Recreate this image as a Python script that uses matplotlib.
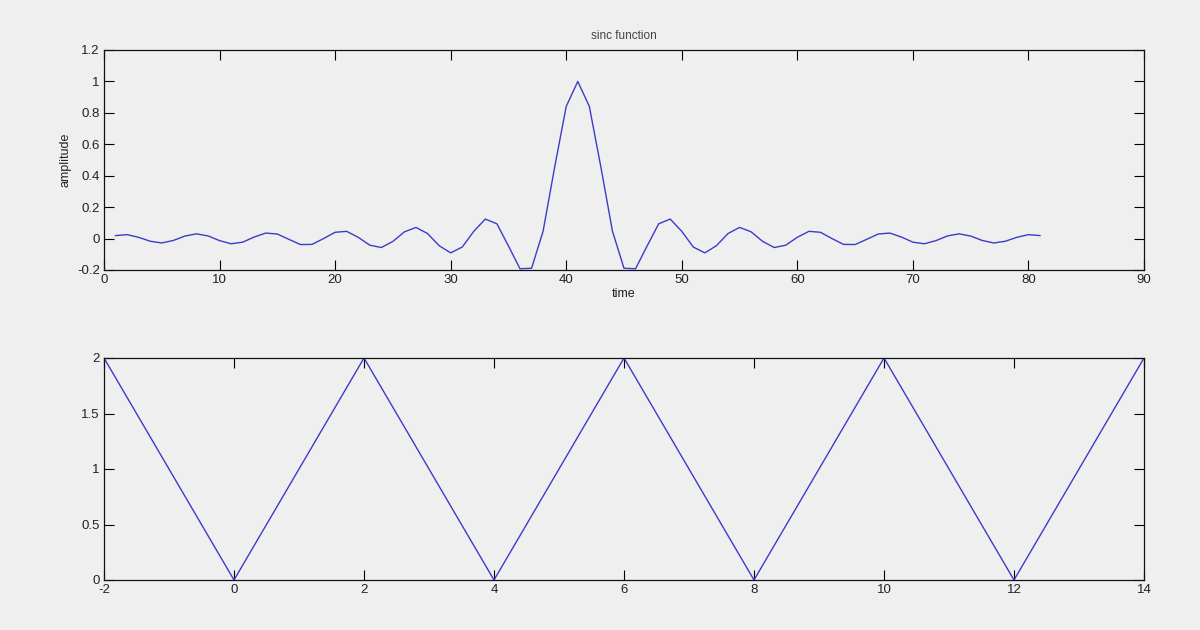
import matplotlib
matplotlib.use("Agg")
import matplotlib.pyplot as plt

# sinc samples, n = 1..81
sinc_n = list(range(1, 82))
sinc_y = [
    0.019, 0.025, 0.008, -0.017, -0.028, -0.012, 0.016, 0.030, 0.017, -0.013,
    -0.033, -0.023, 0.010, 0.035, 0.029, -0.005, -0.038, -0.037, 0.000, 0.040,
    0.046, 0.008, -0.042, -0.057, -0.018, 0.043, 0.071, 0.032, -0.045, -0.091,
    -0.054, 0.046, 0.124, 0.094, -0.047, -0.192, -0.189, 0.047, 0.455, 0.841,
    1.000,
    0.841, 0.455, 0.047, -0.189, -0.192, -0.047, 0.094, 0.124, 0.046, -0.054,
    -0.091, -0.045, 0.032, 0.071, 0.043, -0.018, -0.057, -0.042, 0.008, 0.046,
    0.040, 0.000, -0.037, -0.038, -0.005, 0.029, 0.035, 0.010, -0.023, -0.033,
    -0.013, 0.017, 0.030, 0.016, -0.012, -0.028, -0.017, 0.008, 0.025, 0.019,
]

# triangle wave
tri_x = [-2, 0, 2, 4, 6, 8, 10, 12, 14]
tri_y = [2, 0, 2, 0, 2, 0, 2, 0, 2]

top_xticks = [0, 10, 20, 30, 40, 50, 60, 70, 80, 90]
top_yticks = [-0.2, 0, 0.2, 0.4, 0.6, 0.8, 1, 1.2]
top_yticklabels = ["-0.2", "0", "0.2", "0.4", "0.6", "0.8", "1", "1.2"]
bot_xticks = [-2, 0, 2, 4, 6, 8, 10, 12, 14]
bot_xticklabels = ["-2", "0", "2", "4", "6", "8", "10", "12", "14"]
bot_yticks = [0, 0.5, 1, 1.5, 2]
bot_yticklabels = ["0", "0.5", "1", "1.5", "2"]

bg = "#efefef"
line_col = "#3c3cc8"
txt = "#222222"
plt.rcParams["font.family"] = ["Liberation Sans", "DejaVu Sans"]
plt.rcParams["axes.unicode_minus"] = False

fig = plt.figure(figsize=(12, 6.3), dpi=100, facecolor=bg)
ax1 = fig.add_axes([104/1200, 1 - 270/630, 1040/1200, 220/630], facecolor=bg)
ax2 = fig.add_axes([104/1200, 1 - 580/630, 1040/1200, 222/630], facecolor=bg)

ax1.plot(sinc_n, sinc_y, color=line_col, lw=1.0)
ax1.set_xlim(0, 90)
ax1.set_ylim(-0.2, 1.2)
ax1.set_xticks(top_xticks)
ax1.set_yticks(top_yticks)
ax1.set_yticklabels(top_yticklabels)
ax1.set_title("sinc function", fontsize=8.5, color="#444444", pad=8)
ax1.set_xlabel("time", fontsize=9, color=txt, labelpad=1)
ax1.set_ylabel("amplitude", fontsize=9, color=txt, labelpad=4)

ax2.plot(tri_x, tri_y, color=line_col, lw=1.0)
ax2.set_xlim(-2, 14)
ax2.set_ylim(0, 2)
ax2.set_xticks(bot_xticks)
ax2.set_xticklabels(bot_xticklabels)
ax2.set_yticks(bot_yticks)
ax2.set_yticklabels(bot_yticklabels)

for ax in (ax1, ax2):
    ax.tick_params(direction="in", length=7, width=0.8, top=True, right=True,
                   labelsize=9.5, labelcolor=txt, pad=3)
    for s in ax.spines.values():
        s.set_linewidth(0.9)
        s.set_color("#111111")

fig.savefig("out.png", dpi=100, facecolor=bg)
